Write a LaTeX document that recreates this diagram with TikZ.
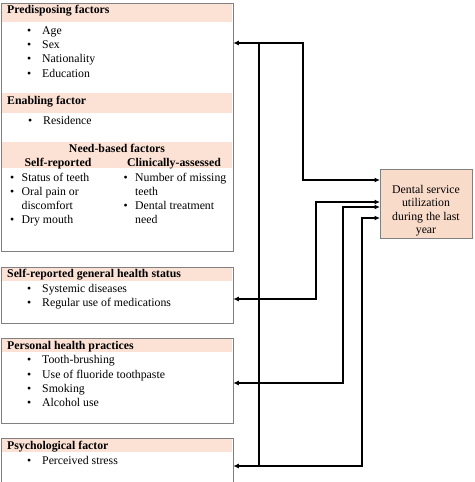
\documentclass[tikz,border=0pt]{standalone}
\usepackage{fontspec}
\setmainfont{Liberation Serif}
\usepackage{tikz}
\usetikzlibrary{arrows.meta}

\definecolor{bandpeach}{HTML}{FBE2D4}
\definecolor{outpeach}{HTML}{F9DBC9}
\definecolor{boxgray}{HTML}{808080}

\newcommand{\bul}{\makebox[15pt][l]{\textbullet}}
\newcommand{\bulN}{\makebox[11.5pt][l]{\textbullet}}

\begin{document}
\begin{tikzpicture}[x=1pt, y=-1pt,
    font=\fontsize{11.8pt}{14.5pt}\selectfont,
    box/.style={draw=boxgray, line width=0.8pt, anchor=north west, inner sep=0pt},
    band/.style={fill=bandpeach},
    head/.style={anchor=base west, inner sep=0pt, font=\fontsize{11.8pt}{14.5pt}\selectfont\bfseries},
    item/.style={anchor=base west, inner sep=0pt},
    link/.style={{Latex[length=5.5pt,width=5pt]}-{Latex[length=5.5pt,width=5pt]}, line width=1.3pt},
    wire/.style={line width=1.3pt}]
    \clip (0,0) rectangle (474,482);

    % header bands
    \fill[band] (1.5,3) rectangle (232,21.5);
    \fill[band] (1.5,93) rectangle (232,113);
    \fill[band] (1.5,142) rectangle (232,168);
    \fill[band] (1.5,267.5) rectangle (232,280.5);
    \fill[band] (1.5,338.5) rectangle (232,352);
    \fill[band] (1.5,438) rectangle (232,452);

    % boxes on the left
    \node[box, minimum width=231.5pt, minimum height=248.5pt] (pred) at (1,2.5) {};
    \node[box, minimum width=231.5pt, minimum height=56pt] (gen) at (1,267) {};
    \node[box, minimum width=231.5pt, minimum height=85pt] (prac) at (1,338) {};
    \node[box, minimum width=231.5pt, minimum height=60pt] (psych) at (1,437.5) {};

    % predisposing, enabling, need-based
    \node[head] (predh) at (7,13.5) {Predisposing factors};
    \node[item] (age) at (27,34) {\bul Age};
    \node[item] (sex) at (27,48) {\bul Sex};
    \node[item] (nat) at (27,62.5) {\bul Nationality};
    \node[item] (edu) at (27,77) {\bul Education};

    \node[head] (enabh) at (7,104.5) {Enabling factor};
    \node[item] (res) at (28,124.5) {\bul Residence};

    \node[head, anchor=base] (needh) at (117,152) {Need-based factors};
    \node[head, anchor=base] (selfh) at (58,166.5) {Self-reported};
    \node[head, anchor=base] (clinh) at (174,166.5) {Clinically-assessed};

    \node[item] (teeth) at (10,181) {\bulN Status of teeth};
    \node[item] (pain) at (10,195.5) {\bulN Oral pain or};
    \node[item] (pain2) at (21.5,209.5) {discomfort};
    \node[item] (dry) at (10,223.5) {\bulN Dry mouth};

    \node[item] (miss) at (123.5,181) {\bulN Number of missing};
    \node[item] (miss2) at (135,195) {teeth};
    \node[item] (treat) at (123.5,209) {\bulN Dental treatment};
    \node[item] (treat2) at (135,223) {need};

    % general health, practices, psychological
    \node[head] (genh) at (7,277) {Self-reported general health status};
    \node[item] (sys) at (27,292) {\bul Systemic diseases};
    \node[item] (med) at (27,306) {\bul Regular use of medications};

    \node[head] (prach) at (7,349) {Personal health practices};
    \node[item] (brush) at (27,363.5) {\bul Tooth-brushing};
    \node[item] (fluor) at (27,378) {\bul Use of fluoride toothpaste};
    \node[item] (smoke) at (27,392) {\bul Smoking};
    \node[item] (alc) at (27,406.5) {\bul Alcohol use};

    \node[head] (psychh) at (7,449) {Psychological factor};
    \node[item] (stress) at (27,464) {\bul Perceived stress};

    % outcome
    \node[box, fill=outpeach, minimum width=92pt, minimum height=69pt] (dsu) at (380,169) {};
    \node[anchor=north, inner sep=0pt, align=center,
          font=\fontsize{11.8pt}{13.5pt}\selectfont] (dsutxt) at (426,184.8)
          {Dental service\\utilization\\during the last\\year};

    % connectors
    \coordinate (topA) at (303,43);
    \coordinate (botA) at (303,180);
    \coordinate (genC) at (316,299);
    \coordinate (dsuC) at (316,202);
    \coordinate (pracD) at (343,383);
    \coordinate (dsuD) at (343,207);
    \coordinate (psyB) at (362,466);
    \coordinate (dsuB) at (362,218);
    \coordinate (trunkT) at (259,43);
    \coordinate (trunkB) at (259,466);

    \draw[link] (pred.east |- topA) -- (topA) -- (botA) -- (dsu.west |- botA);
    \draw[link] (gen.east |- genC) -- (genC) -- (dsuC) -- (dsu.west |- dsuC);
    \draw[link] (prac.east |- pracD) -- (pracD) -- (dsuD) -- (dsu.west |- dsuD);
    \draw[link] (psych.east |- psyB) -- (psyB) -- (dsuB) -- (dsu.west |- dsuB);
    \draw[wire] (trunkT) -- (trunkB);
\end{tikzpicture}
\end{document}
